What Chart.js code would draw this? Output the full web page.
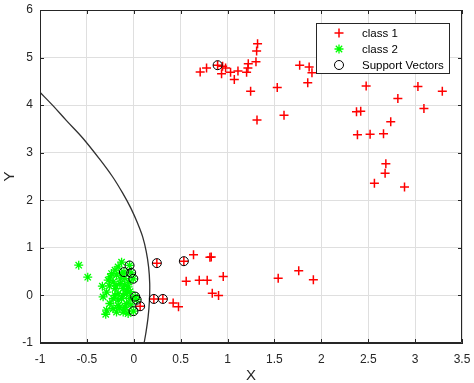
<!DOCTYPE html>
<html>
<head>
<meta charset="utf-8">
<script src="https://cdn.jsdelivr.net/npm/chart.js@4.4.1/dist/chart.umd.min.js"></script>
<style>
html,body{margin:0;padding:0;background:#fff;}
#wrap{width:474px;height:383px;position:relative;}
</style>
</head>
<body>
<div id="wrap"><canvas id="c" width="474" height="383"></canvas></div>
<script>
// ---- data ----
const class1X = [0.708,0.776,0.894,0.947,0.979,0.936,1.032,1.072,1.111,1.203,1.217,1.221,1.303,1.31,1.32,1.246,1.314,1.53,1.602,1.769,1.87,1.9,1.855,2.478,2.375,2.42,2.385,2.52,2.663,2.74,2.816,3.03,3.29,3.094,2.688,2.68,2.566,2.887,0.246,0.534,0.637,0.812,0.826,0.559,0.698,0.783,0.954,0.837,0.904,1.54,1.759,1.915,0.214,0.31,0.068,0.42,0.477];
const class1Y = [4.695,4.78,4.84,4.82,4.78,4.66,4.69,4.54,4.72,4.69,4.78,4.87,4.91,5.14,5.29,4.29,3.69,4.37,3.79,4.84,4.80,4.68,4.47,4.40,3.86,3.87,3.38,3.39,3.40,3.65,4.14,4.39,4.29,3.93,2.77,2.57,2.36,2.28,0.679,0.72,0.855,0.80,0.81,0.30,0.32,0.32,0.40,0.047,-0.003,0.36,0.52,0.33,-0.074,-0.074,-0.227,-0.157,-0.24];

const class2X = [-0.587,-0.491,-0.13,-0.167,-0.20,-0.237,-0.184,-0.13,-0.095,-0.273,-0.22,-0.148,-0.335,-0.20,-0.113,-0.06,-0.29,-0.167,-0.077,-0.327,-0.22,-0.13,-0.042,-0.255,-0.167,-0.077,-0.29,-0.184,-0.095,-0.299,-0.06,-0.045,-0.105,-0.028,-0.005,0.015,0.031,-0.003,-0.25,-0.167,-0.095,-0.22,-0.113,-0.077,-0.113,-0.14,-0.05,-0.04,-0.19,-0.26,-0.1,-0.03,-0.15,-0.2];
const class2Y = [0.636,0.383,0.70,0.60,0.53,0.46,0.425,0.46,0.355,0.32,0.285,0.25,0.195,0.145,0.145,0.18,0.07,0.04,0.04,-0.03,-0.065,-0.065,-0.065,-0.17,-0.21,-0.17,-0.31,-0.35,-0.31,-0.396,-0.38,0.63,0.49,0.475,0.35,-0.025,-0.09,-0.33,0.39,-0.10,-0.24,-0.28,-0.35,0.11,0.0,0.35,0.28,0.08,0.2,0.2,0.22,-0.2,-0.25,0.0];

const svX = [0.894,0.246,0.534,0.214,0.31,0.068,-0.045,-0.105,-0.028,-0.005,0.015,0.031,-0.003];
const svY = [4.84,0.679,0.72,-0.074,-0.074,-0.227,0.63,0.49,0.475,0.35,-0.025,-0.09,-0.33];

const boundaryX = [-1.0,-0.862,-0.72,-0.545,-0.37,-0.228,-0.118,-0.03,0.042,0.095,0.133,0.158,0.17,0.167,0.153,0.128,0.11];
const boundaryY = [4.27,3.99,3.68,3.31,2.88,2.50,2.15,1.83,1.51,1.23,0.92,0.60,0.25,-0.10,-0.45,-0.80,-1.0];

const xTicks = [-1,-0.5,0,0.5,1,1.5,2,2.5,3,3.5];
const yTicks = [-1,0,1,2,3,4,5,6];
const legendLabels = ['class 1','class 2','Support Vectors'];
const xLabel = 'X';
const yLabel = 'Y';

const pts = (xs, ys) => xs.map((x, i) => ({x: x, y: ys[i]}));

const AX = '#262626';
const FONT = '"Liberation Sans", Arial, Helvetica, sans-serif';

const boxPlugin = {
  id: 'boxPlugin',
  afterDatasetsDraw(chart) {
    const {ctx, chartArea: a, scales} = chart;
    ctx.save();
    ctx.strokeStyle = AX;
    ctx.lineWidth = 1;
    ctx.beginPath();
    ctx.rect(Math.round(a.left) + 0.5, Math.round(a.top) + 0.5, Math.round(a.right - a.left) - 1, Math.round(a.bottom - a.top) - 1);
    ctx.stroke();
    const tl = 4;
    ctx.beginPath();
    xTicks.forEach(v => {
      const px = Math.round(scales.x.getPixelForValue(v)) + 0.5;
      ctx.moveTo(px, a.bottom); ctx.lineTo(px, a.bottom - tl);
      ctx.moveTo(px, a.top); ctx.lineTo(px, a.top + tl);
    });
    yTicks.forEach(v => {
      const py = Math.round(scales.y.getPixelForValue(v)) + 0.5;
      ctx.moveTo(a.left, py); ctx.lineTo(a.left + tl, py);
      ctx.moveTo(a.right, py); ctx.lineTo(a.right - tl, py);
    });
    ctx.stroke();
    ctx.restore();
  },
  afterDraw(chart) {
    const ctx = chart.ctx;
    ctx.save();
    const bx = 316.5, by = 23.5, bw = 133, bh = 50;
    ctx.fillStyle = '#fff';
    ctx.fillRect(bx, by, bw, bh);
    ctx.strokeStyle = AX;
    ctx.lineWidth = 1;
    ctx.strokeRect(bx, by, bw, bh);
    const rows = [33, 49, 65];
    const styles = [
      {pointStyle: 'cross', radius: 4.5, borderWidth: 1.5, color: '#ff0000'},
      {pointStyle: 'star', radius: 4.5, borderWidth: 1.3, color: '#00ff00'},
      {pointStyle: 'circle', radius: 4.5, borderWidth: 1, color: '#000'}
    ];
    rows.forEach((ry, i) => {
      const s = styles[i];
      ctx.strokeStyle = s.color;
      ctx.fillStyle = 'rgba(0,0,0,0)';
      ctx.lineWidth = s.borderWidth;
      Chart.helpers.drawPoint(ctx, {pointStyle: s.pointStyle, radius: s.radius, rotation: 0, borderWidth: s.borderWidth}, 339, ry);
      ctx.fillStyle = '#000';
      ctx.font = '11.5px ' + FONT;
      ctx.textBaseline = 'middle';
      ctx.textAlign = 'left';
      ctx.fillText(legendLabels[i], 362, ry + 0.5);
    });
    ctx.restore();
  }
};

const zeroPad = s => { s.paddingTop = 0; s.paddingBottom = 0; s.paddingLeft = 0; s.paddingRight = 0; };

new Chart(document.getElementById('c'), {
  type: 'scatter',
  data: {
    datasets: [
      {
        label: 'Support Vectors', data: pts(svX, svY), order: 0,
        pointStyle: 'circle', pointRadius: 4.5, pointBorderWidth: 1,
        borderColor: '#000', backgroundColor: 'rgba(0,0,0,0)', pointHoverRadius: 4.5
      },
      {
        label: 'boundary', data: pts(boundaryX, boundaryY), order: 1, showLine: true,
        borderColor: '#303030', borderWidth: 1.3, pointRadius: 0, tension: 0.35, fill: false
      },
      {
        label: 'class 2', data: pts(class2X, class2Y), order: 2,
        pointStyle: 'star', pointRadius: 4.5, pointBorderWidth: 1.3,
        borderColor: '#00ff00', backgroundColor: '#00ff00'
      },
      {
        label: 'class 1', data: pts(class1X, class1Y), order: 3,
        pointStyle: 'cross', pointRadius: 4.5, pointBorderWidth: 1.5,
        borderColor: '#ff0000', backgroundColor: '#ff0000'
      }
    ]
  },
  options: {
    responsive: false,
    animation: false,
    devicePixelRatio: 1,
    layout: {padding: {top: 10, right: 12, left: 0, bottom: 0}},
    plugins: {legend: {display: false}, tooltip: {enabled: false}},
    scales: {
      x: {
        type: 'linear', min: -1, max: 3.5,
        afterBuildTicks: s => { s.ticks = xTicks.map(v => ({value: v})); },
        afterFit: s => { s.height = 40; zeroPad(s); },
        grid: {color: '#dfdfdf', drawTicks: false, lineWidth: 1},
        border: {display: true, color: AX},
        ticks: {
          padding: 9, color: AX, font: {family: FONT, size: 12},
          maxRotation: 0, autoSkip: false,
          callback: v => String(v)
        },
        title: {display: true, text: xLabel, color: AX, font: {family: FONT, size: 15}, padding: {top: 0, bottom: -1.5}}
      },
      y: {
        type: 'linear', min: -1, max: 6,
        afterBuildTicks: s => { s.ticks = yTicks.map(v => ({value: v})); },
        afterFit: s => { s.width = 40; zeroPad(s); },
        grid: {color: '#dfdfdf', drawTicks: false, lineWidth: 1},
        border: {display: true, color: AX},
        ticks: {
          padding: 7, color: AX, font: {family: FONT, size: 12},
          autoSkip: false,
          callback: v => String(v)
        },
        title: {display: true, text: yLabel, color: AX, font: {family: FONT, size: 15}, padding: {top: 1, bottom: 0}}
      }
    }
  },
  plugins: [boxPlugin]
});
</script>
</body>
</html>
